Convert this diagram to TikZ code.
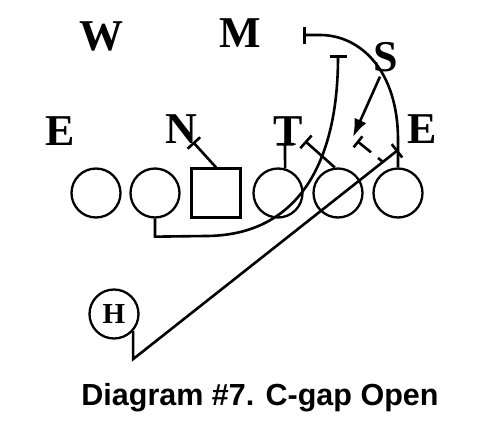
\documentclass[tikz,border=0pt]{standalone}
\usepackage{fontspec}
\setmainfont{Liberation Serif}
\newfontfamily\capfont{Liberation Sans}
\usetikzlibrary{arrows.meta,calc}
\begin{document}
\begin{tikzpicture}[x=1pt,y=-1pt,
  lbl/.style={font=\fontsize{44}{44}\selectfont\bfseries, anchor=base, inner sep=0pt},
  pl/.style={circle, draw, line width=2.3pt, minimum size=49pt, inner sep=0pt},
  ctr/.style={rectangle, draw, line width=2.3pt, minimum size=49pt, inner sep=0pt},
  rt/.style={line width=2.6pt},
  tb/.style={-{Bar[width=17pt]}},
  ]
\useasboundingbox (0,0) rectangle (500,426);
\fill[white] (0,0) rectangle (500,426);
% offense
\node[pl] (c1) at (96,193) {};
\node[pl] (c2) at (155,193) {};
\node[ctr] (cc) at (216,193) {};
\node[pl] (c4) at (278,193) {};
\node[pl] (c5) at (338,193) {};
\node[pl] (c6) at (398,193) {};
\node[pl, font=\fontsize{29}{29}\selectfont\bfseries] (h) at (114,314) {H};
% defense
\node[lbl] (w) at (101,50) {W};
\node[lbl] (m) at (240,47) {M};
\node[lbl] (s) at (386,71) {S};
\node[lbl] (el) at (60,145) {E};
\node[lbl] (n) at (181,143) {N};
\node[lbl] (t) at (288,145) {T};
\node[lbl] (er) at (422,143) {E};
% block ends
\coordinate (nb) at (193,142);
\coordinate (tb1) at (285,143);
\coordinate (tb2) at (305,141);
\coordinate (lb) at (338,55);
\coordinate (mb) at (303,35);
\coordinate (eb) at (398,150);
\coordinate (sa) at (353,137);
\coordinate (sd1) at (357,141);
\coordinate (sd2) at (383,162);
% blocks
\draw[rt,tb] (cc.north) -- (nb);
\draw[rt,tb] (c4.74) -- (tb1);
\draw[rt,tb] (c5.97) -- (tb2);
\draw[rt,tb] (c2.south) -- ++(0,18) -- (205,236) .. controls (300,236) and (338,160) .. (lb);
\draw[rt,tb] (c6.north) -- (398,140) .. controls (398,70) and (360,35) .. (320,35) -- (mb);
\draw[rt,tb] (h.-42) -- ++(0,28) -- (eb);
% S blitz
\draw[rt,-{Latex[length=18pt,width=13pt]}] ($(s.south)+(-6,5)$) -- (sa);
\draw[rt,dash pattern=on 16pt off 9pt,{Bar[width=14pt]}-] (sd1) -- (sd2);
% caption
\node[font=\capfont\bfseries\fontsize{30.5}{30.5}\selectfont, anchor=base] (cap) at (260,405) {Diagram \#7. C-gap Open};
\end{tikzpicture}
\end{document}
